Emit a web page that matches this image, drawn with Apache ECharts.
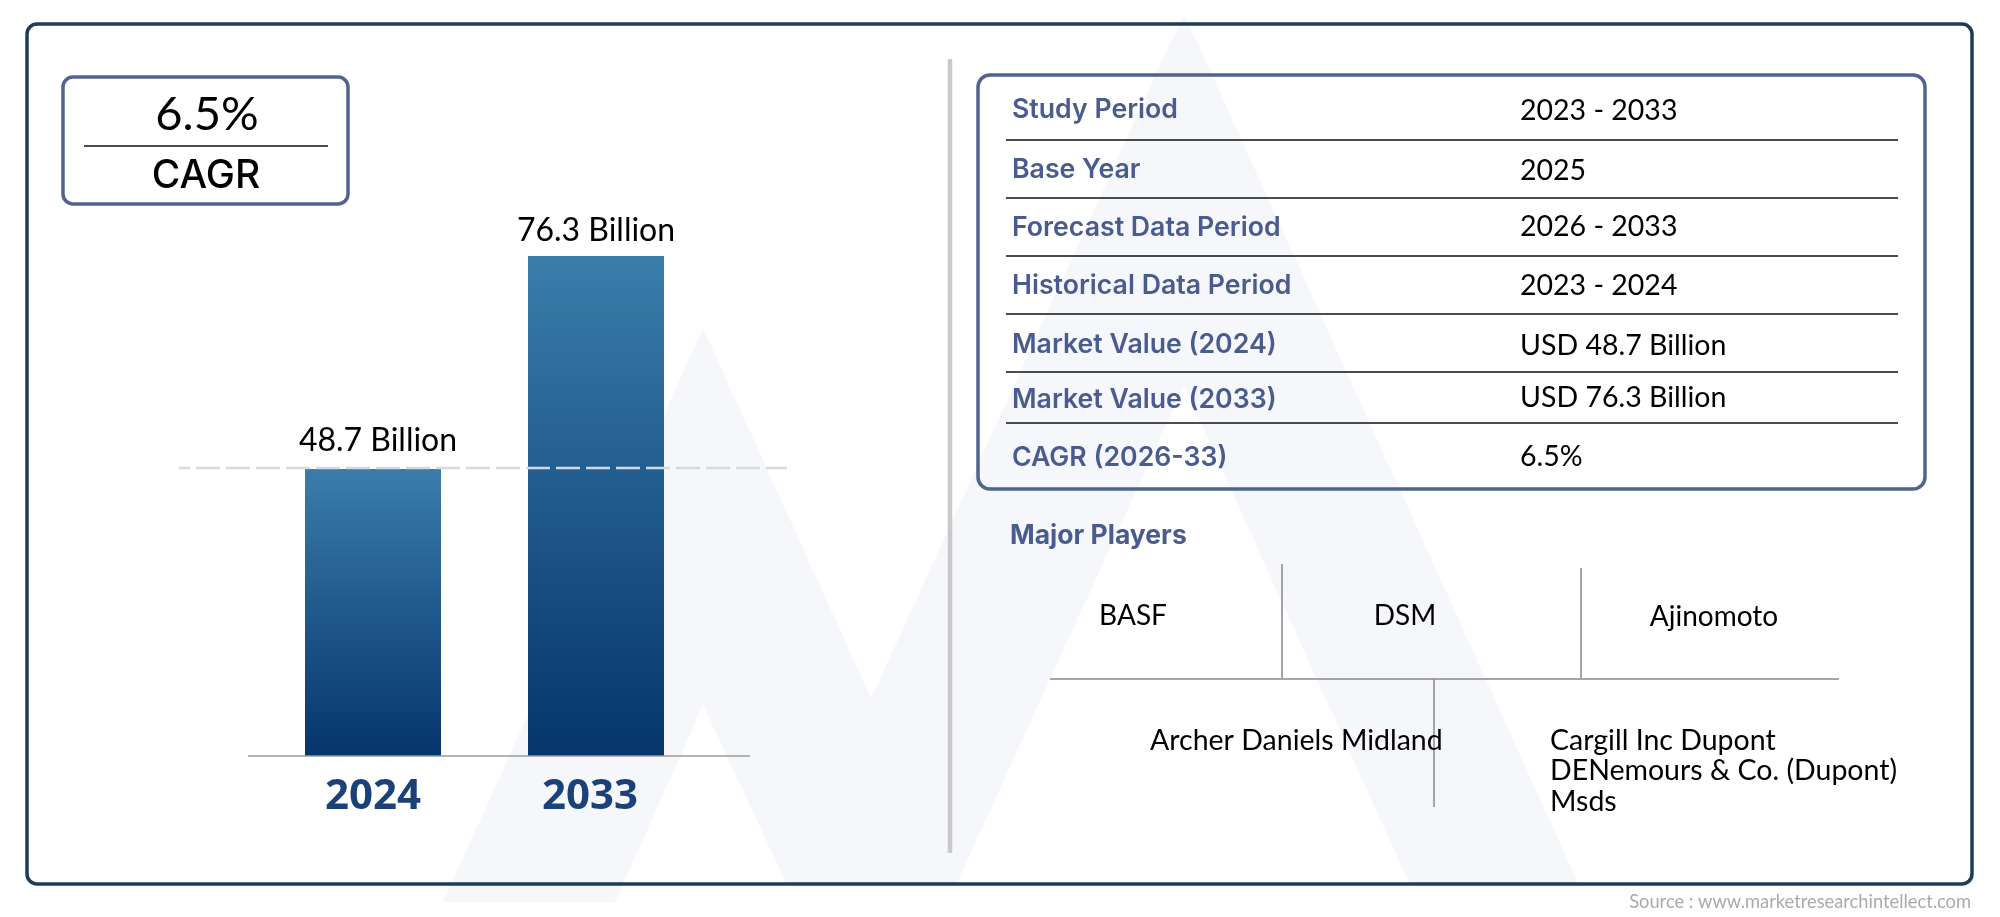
<!DOCTYPE html>
<html>
<head>
<meta charset="utf-8">
<title>Market overview</title>
<script src="https://cdn.jsdelivr.net/npm/echarts@6/dist/echarts.min.js"></script>
<style>
  html, body { margin: 0; padding: 0; background: #fff; }
  #chart { width: 2000px; height: 917px; }
</style>
</head>
<body>
<div id="chart"></div>
<script>
const years = ['2024', '2033']
const marketValues = [48.7, 76.3]
const cagrValue = '6.5%'
const cagrName = 'CAGR'
const tableLabels = [
  'Study Period',
  'Base Year',
  'Forecast Data Period',
  'Historical Data Period',
  'Market Value (2024)',
  'Market Value (2033)',
  'CAGR (2026-33)',
]
const tableValues = [
  '2023 - 2033',
  '2025',
  '2026 - 2033',
  '2023 - 2024',
  'USD 48.7 Billion',
  'USD 76.3 Billion',
  '6.5%',
]
const playersTitle = 'Major Players'
const topPlayers = ['BASF', 'DSM', 'Ajinomoto']
const bottomPlayers = ['Archer Daniels Midland', 'Cargill Inc Dupont', 'DENemours & Co. (Dupont)', 'Msds']
const sourceText = 'Source : www.marketresearchintellect.com'

const BLUE_TEXT = '#4a5c8f'
const BOX_BORDER = '#51638f'
const CARD_BORDER = '#1b3d5a'
const WATERMARK = '#f5f7fb'
const BODY_FONT = 'Lato, sans-serif'
const HEAD_FONT = 'Inter, sans-serif'

const rowLabelY = [110, 170, 228, 286, 345, 400, 458]
const rowValueY = [111, 171, 227, 286, 346, 398, 457]
const rowLineY = [140, 198, 256, 314, 372, 423]

const text = (str, x, y, font, fill, align = 'left', z = 20) => ({
  type: 'text',
  z,
  style: { text: str, x, y, font, fill, align, verticalAlign: 'middle' },
})

const line = (x1, y1, x2, y2, stroke, lineWidth, z = 5) => ({
  type: 'line',
  z,
  shape: { x1, y1, x2, y2 },
  style: { stroke, lineWidth },
})

const box = (x, y, width, height, stroke, r) => ({
  type: 'rect',
  z: 4,
  shape: { x, y, width, height, r },
  style: { fill: 'transparent', stroke, lineWidth: 3.5 },
})

const watermark = points => ({
  type: 'polygon',
  z: -5,
  shape: { points },
  style: { fill: WATERMARK },
})

const staticGraphics = [
  watermark([[703, 328], [956, 885], [787, 885], [703, 705], [615, 902], [443, 902]]),
  watermark([[1184, 13], [1579, 885], [1410, 885], [1184, 386], [956, 885], [786, 885]]),

  box(27, 24, 1945, 860, CARD_BORDER, 10),
  box(63, 77, 285, 127, BOX_BORDER, 10),
  box(978, 75, 947, 414, BOX_BORDER, 12),

  line(84, 146, 328, 146, '#111', 1.5),
  text(cagrValue, 207, 115, '47px ' + BODY_FONT, '#000', 'center'),
  text(cagrName, 206, 176, '500 39px ' + HEAD_FONT, '#000', 'center'),

  line(950, 59, 950, 853, '#c9c9c9', 4.5),
  line(248, 756, 750, 756, '#9a9a9a', 1.5),

  ...rowLineY.map(y => line(1006, y, 1898, y, '#111', 1.5)),
  ...tableLabels.map((str, i) => text(str, 1012, rowLabelY[i], '600 26.7px ' + HEAD_FONT, BLUE_TEXT)),
  ...tableValues.map((str, i) => text(str, 1520, rowValueY[i], '28.5px ' + BODY_FONT, '#000')),

  text(playersTitle, 1010, 536, '700 26.5px ' + HEAD_FONT, BLUE_TEXT),
  line(1282, 564, 1282, 678, '#888', 1.5),
  line(1581, 568, 1581, 678, '#888', 1.5),
  line(1050, 679, 1839, 679, '#888', 1.5),
  line(1434, 679, 1434, 807, '#888', 1.5),
  text(topPlayers[0], 1133, 616, '28px ' + BODY_FONT, '#000', 'center'),
  text(topPlayers[1], 1405, 616, '28px ' + BODY_FONT, '#000', 'center'),
  text(topPlayers[2], 1714, 617, '28px ' + BODY_FONT, '#000', 'center'),
  text(bottomPlayers[0], 1150, 741, '28.5px ' + BODY_FONT, '#000'),
  text(bottomPlayers[1], 1550, 741, '28.5px ' + BODY_FONT, '#000'),
  text(bottomPlayers[2], 1550, 771, '28.5px ' + BODY_FONT, '#000'),
  text(bottomPlayers[3], 1550, 802, '28.5px ' + BODY_FONT, '#000'),

  text(sourceText, 1971, 902, '18.3px ' + BODY_FONT, '#aaa', 'right'),
]

const chart = echarts.init(document.getElementById('chart'), null, { renderer: 'canvas' })

chart.setOption({
  backgroundColor: '#fff',
  animation: false,
  grid: { left: 261.5, width: 446, top: 256, bottom: 161 },
  xAxis: {
    type: 'category',
    data: [years[0], { value: years[1], textStyle: { padding: [0, 12, 0, 0] } }],
    axisLine: { show: false },
    axisTick: { show: false },
    axisLabel: {
      margin: 20,
      fontFamily: 'Open Sans',
      fontWeight: 'bold',
      fontSize: 42,
      color: '#1a4278',
    },
  },
  // the picture's bars are not drawn from zero, 11.5 is what fits their heights
  yAxis: { type: 'value', min: 11.5, max: 76.3, show: false },
  series: [{
    type: 'bar',
    barWidth: 136,
    data: [
      { value: marketValues[0], label: { offset: [5, -3] } },
      { value: marketValues[1] },
    ],
    itemStyle: {
      color: new echarts.graphic.LinearGradient(0, 0, 0, 1, [
        { offset: 0, color: '#3a7dab' },
        { offset: 1, color: '#05356c' },
      ]),
    },
    label: {
      show: true,
      position: 'top',
      distance: 9,
      formatter: '{c} Billion',
      fontFamily: 'Lato',
      fontSize: 32,
      color: '#000',
    },
  }],
  graphic: { elements: staticGraphics },
})

// reference line sits on the 2024 value, wider than the plot
const refY = chart.convertToPixel({ yAxisIndex: 0 }, marketValues[0])
chart.setOption({
  graphic: {
    elements: [...staticGraphics, {
      type: 'line',
      z: 10,
      shape: { x1: 179, y1: refY - 1, x2: 787, y2: refY - 1 },
      style: { stroke: '#d6dade', lineWidth: 2.5, lineDash: [24, 6], lineDashOffset: 13 },
    }],
  },
})
</script>
</body>
</html>
